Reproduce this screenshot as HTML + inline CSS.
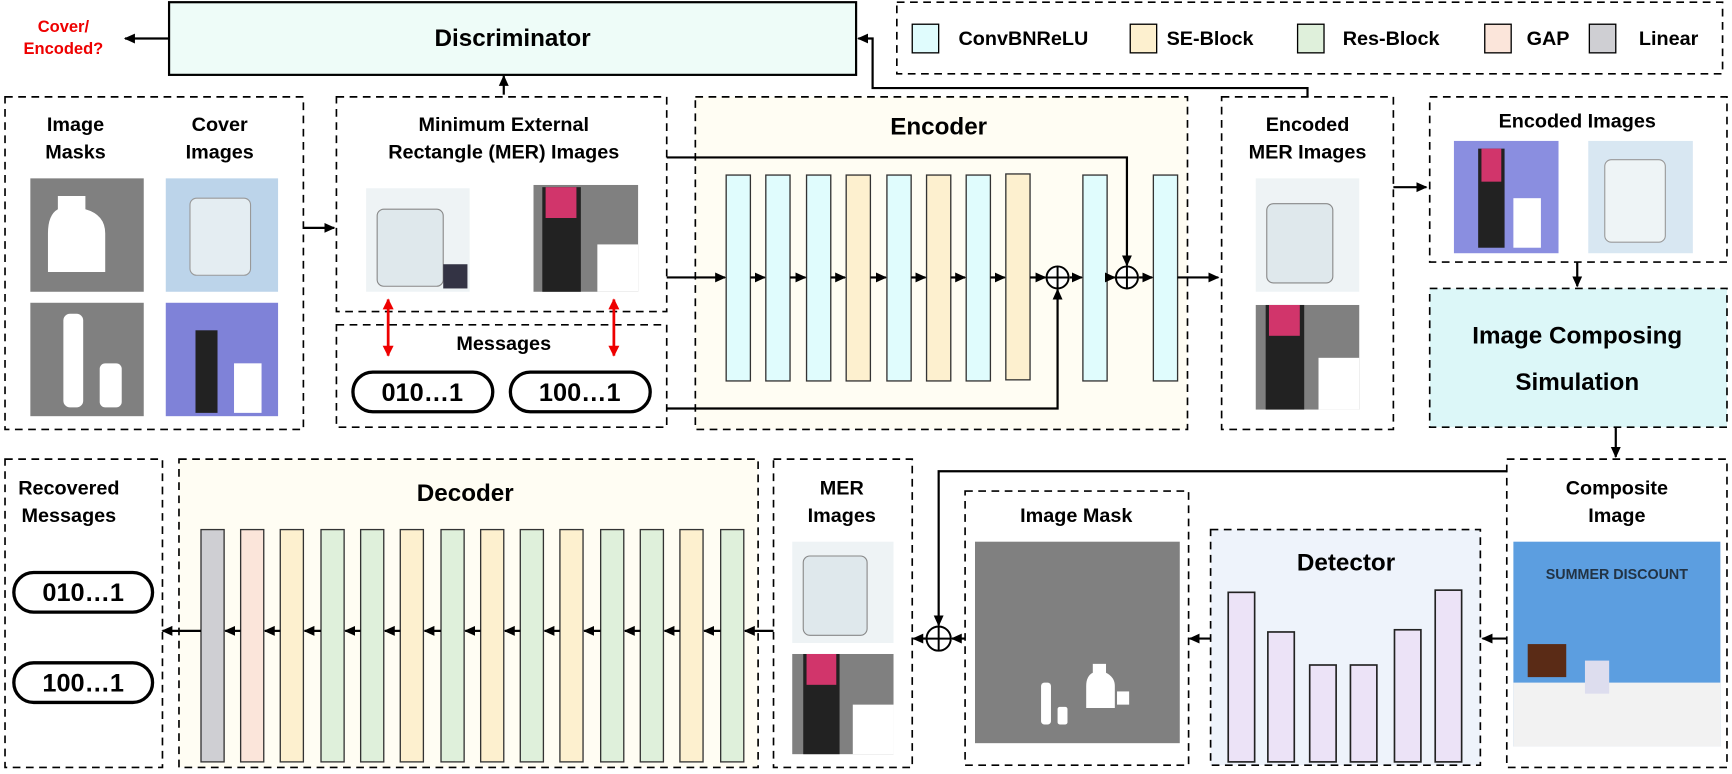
<!DOCTYPE html>
<html><head><meta charset="utf-8"><style>
html,body{margin:0;padding:0;background:#fff;}
svg{display:block;}
text{font-family:"Liberation Sans",sans-serif;font-weight:bold;fill:#000;}
</style></head><body>
<svg width="1732" height="774" viewBox="0 0 1568 703" xmlns="http://www.w3.org/2000/svg">
<defs>
<marker id="a" markerWidth="10" markerHeight="10" refX="9" refY="5" orient="auto" markerUnits="userSpaceOnUse"><path d="M0,0.5 L10,5 L0,9.5 z" fill="#000"/></marker>
<marker id="r" markerWidth="10" markerHeight="10" refX="9" refY="5" orient="auto-start-reverse" markerUnits="userSpaceOnUse"><path d="M0,0 L10,5 L0,10 z" fill="#e00"/></marker>
</defs>
<g fill="none" stroke="#000" stroke-width="1.5" stroke-dasharray="7,5">
<rect x="812" y="2" width="750" height="65"/>
<rect x="2" y="88" width="271" height="302"/>
<rect x="303" y="88" width="300" height="195"/>
<rect x="303" y="295" width="300" height="93"/>
<rect x="629" y="88" width="447" height="302" fill="#fffdf3"/>
<rect x="1107" y="88" width="156" height="302"/>
<rect x="1296" y="88" width="270" height="150"/>
<rect x="1296" y="262" width="270" height="126" fill="#dcf7f8"/>
<rect x="1366" y="417" width="200" height="280"/>
<rect x="1097" y="481" width="245" height="214" fill="#eef3fb"/>
<rect x="874" y="446" width="203" height="249"/>
<rect x="700" y="417" width="126" height="280"/>
<rect x="160" y="417" width="526" height="280" fill="#fffdf3"/>
<rect x="2" y="417" width="143" height="280"/>
</g>
<rect x="151" y="2" width="624" height="66" fill="#eefcf8" stroke="#000" stroke-width="2"/>
<text x="463" y="42" font-size="22" text-anchor="middle">Discriminator</text>
<text x="55" y="29" font-size="15" text-anchor="middle" style="fill:#e00">Cover/</text>
<text x="55" y="49" font-size="15" text-anchor="middle" style="fill:#e00">Encoded?</text>
<g stroke="#000" stroke-width="1.2">
<rect x="826" y="22" width="24" height="26" fill="#e0fcfd"/>
<rect x="1024" y="22" width="24" height="26" fill="#fdf0cf"/>
<rect x="1176" y="22" width="24" height="26" fill="#dff0db"/>
<rect x="1346" y="22" width="24" height="26" fill="#fbe5da"/>
<rect x="1441" y="22" width="24" height="26" fill="#cfcfd3"/>
</g>
<g font-size="18">
<text x="868" y="41">ConvBNReLU</text>
<text x="1057" y="41">SE-Block</text>
<text x="1217" y="41">Res-Block</text>
<text x="1384" y="41">GAP</text>
<text x="1486" y="41">Linear</text>
</g>
<g font-size="18" text-anchor="middle">
<text x="66" y="119">Image</text><text x="66" y="144">Masks</text>
<text x="197" y="119">Cover</text><text x="197" y="144">Images</text>
<text x="455" y="119">Minimum External</text><text x="455" y="144">Rectangle (MER) Images</text>
<text x="455" y="318">Messages</text>
<text x="1185" y="119">Encoded</text><text x="1185" y="144">MER Images</text>
<text x="1430" y="116">Encoded Images</text>
<text x="1466" y="449">Composite</text><text x="1466" y="474">Image</text>
<text x="975" y="474">Image Mask</text>
<text x="762" y="449">MER</text><text x="762" y="474">Images</text>
<text x="60" y="449">Recovered</text><text x="60" y="474">Messages</text>
</g>
<g font-size="22" text-anchor="middle">
<text x="850" y="122">Encoder</text>
<text x="420" y="455">Decoder</text>
<text x="1220" y="518">Detector</text>
<text x="1430" y="312">Image Composing</text>
<text x="1430" y="354">Simulation</text>
</g>
<rect x="25" y="162" width="103" height="103" fill="#808080"/>
<path d="M50,178 h25 v12 q18,5 18,22 v35 h-52 v-35 q0,-17 9,-22z" fill="#fff"/>
<rect x="25" y="275" width="103" height="103" fill="#808080"/>
<rect x="55" y="285" width="18" height="85" rx="6" fill="#fff"/><rect x="88" y="330" width="20" height="40" rx="5" fill="#fff"/>
<rect x="148" y="162" width="102" height="103" fill="#bcd4ea"/><rect x="170" y="180" width="55" height="70" rx="6" fill="#e4edf2" stroke="#999"/>
<rect x="148" y="275" width="102" height="103" fill="#7f82d8"/><rect x="175" y="300" width="20" height="75" fill="#222"/><rect x="210" y="330" width="25" height="45" fill="#fff"/>
<rect x="330" y="171" width="94" height="94" fill="#eef3f5"/><rect x="340" y="190" width="60" height="70" rx="6" fill="#dfe8ec" stroke="#888"/><rect x="400" y="240" width="22" height="22" fill="#334"/>
<rect x="482" y="168" width="95" height="97" fill="#808080"/><rect x="490" y="170" width="35" height="95" fill="#222"/><rect x="493" y="170" width="28" height="28" fill="#d1356b"/><rect x="540" y="222" width="37" height="43" fill="#fff"/>
<rect x="1138" y="162" width="94" height="103" fill="#eef3f5"/><rect x="1148" y="185" width="60" height="72" rx="6" fill="#dfe8ec" stroke="#888"/>
<rect x="1138" y="277" width="94" height="95" fill="#808080"/><rect x="1147" y="277" width="35" height="95" fill="#222"/><rect x="1150" y="277" width="28" height="28" fill="#d1356b"/><rect x="1195" y="325" width="37" height="47" fill="#fff"/>
<rect x="1318" y="128" width="95" height="102" fill="#8a8ee0"/><rect x="1340" y="135" width="24" height="90" fill="#222"/><rect x="1343" y="135" width="18" height="30" fill="#d1356b"/><rect x="1372" y="180" width="25" height="45" fill="#fff"/>
<rect x="1440" y="128" width="95" height="102" fill="#d8e7f2"/><rect x="1455" y="145" width="55" height="75" rx="6" fill="#eef4f6" stroke="#999"/>
<rect x="1372" y="492" width="188" height="186" fill="#5c9ee0"/><rect x="1372" y="620" width="188" height="58" fill="#f2f2f2"/>
<text x="1466" y="526" font-size="13" text-anchor="middle" style="fill:#234">SUMMER DISCOUNT</text>
<rect x="1385" y="585" width="35" height="30" fill="#5a2b16"/><rect x="1437" y="600" width="22" height="30" fill="#dde"/>
<rect x="883" y="492" width="186" height="183" fill="#808080"/>
<rect x="943" y="620" width="9" height="38" rx="3" fill="#fff"/><rect x="958" y="642" width="9" height="16" rx="2" fill="#fff"/>
<path d="M990,603 h12 v8 q8,4 8,12 v20 h-26 v-20 q0,-9 6,-12z" fill="#fff"/><rect x="1012" y="628" width="11" height="12" fill="#fff"/>
<rect x="717" y="492" width="92" height="92" fill="#eef3f5"/><rect x="727" y="505" width="58" height="72" rx="6" fill="#dfe8ec" stroke="#888"/>
<rect x="717" y="594" width="92" height="91" fill="#808080"/><rect x="727" y="594" width="33" height="91" fill="#222"/><rect x="730" y="594" width="27" height="28" fill="#d1356b"/><rect x="772" y="640" width="37" height="45" fill="#fff"/>
<g fill="#fff" stroke="#000" stroke-width="3">
<rect x="318" y="338" width="127" height="36" rx="18"/><rect x="461" y="338" width="127" height="36" rx="18"/>
<rect x="10" y="520" width="126" height="36" rx="18"/><rect x="10" y="602" width="126" height="36" rx="18"/>
</g>
<g font-size="23" text-anchor="middle">
<text x="381" y="364">010…1</text><text x="524" y="364">100…1</text>
<text x="73" y="546">010…1</text><text x="73" y="628">100…1</text>
</g>
<g stroke="#333" stroke-width="1.2">
<rect x="657" y="159" width="22" height="187" fill="#e0fcfd"/>
<rect x="693" y="159" width="22" height="187" fill="#e0fcfd"/>
<rect x="730" y="159" width="22" height="187" fill="#e0fcfd"/>
<rect x="766" y="159" width="22" height="187" fill="#fdf0cf"/>
<rect x="803" y="159" width="22" height="187" fill="#e0fcfd"/>
<rect x="839" y="159" width="22" height="187" fill="#fdf0cf"/>
<rect x="875" y="159" width="22" height="187" fill="#e0fcfd"/>
<rect x="911" y="158" width="22" height="187" fill="#fdf0cf"/>
<rect x="981" y="159" width="22" height="187" fill="#e0fcfd"/>
<rect x="1045" y="159" width="22" height="187" fill="#e0fcfd"/>
</g>
<g stroke="#333" stroke-width="1.2">
<rect x="180" y="481" width="21" height="211" fill="#cfcfd3"/>
<rect x="216" y="481" width="21" height="211" fill="#fbe5da"/>
<rect x="252" y="481" width="21" height="211" fill="#fdf0cf"/>
<rect x="289" y="481" width="21" height="211" fill="#dff0db"/>
<rect x="325" y="481" width="21" height="211" fill="#dff0db"/>
<rect x="361" y="481" width="21" height="211" fill="#fdf0cf"/>
<rect x="398" y="481" width="21" height="211" fill="#dff0db"/>
<rect x="434" y="481" width="21" height="211" fill="#fdf0cf"/>
<rect x="470" y="481" width="21" height="211" fill="#dff0db"/>
<rect x="506" y="481" width="21" height="211" fill="#fdf0cf"/>
<rect x="543" y="481" width="21" height="211" fill="#dff0db"/>
<rect x="579" y="481" width="21" height="211" fill="#dff0db"/>
<rect x="615" y="481" width="21" height="211" fill="#fdf0cf"/>
<rect x="652" y="481" width="21" height="211" fill="#dff0db"/>
</g>
<g stroke="#222" stroke-width="1.5" fill="#ece3f7">
<rect x="1113" y="538" width="24" height="154"/>
<rect x="1149" y="574" width="24" height="118"/>
<rect x="1187" y="604" width="24" height="88"/>
<rect x="1224" y="604" width="24" height="88"/>
<rect x="1264" y="572" width="24" height="120"/>
<rect x="1301" y="536" width="24" height="156"/>
</g>
<g stroke="#000" stroke-width="2" fill="none">
<line x1="151" y1="35" x2="111" y2="35" marker-end="url(#a)"/>
<line x1="455" y1="86" x2="455" y2="69" marker-end="url(#a)"/>
<line x1="273" y1="207" x2="301" y2="207" marker-end="url(#a)"/>
<line x1="603" y1="252" x2="656" y2="252" marker-end="url(#a)"/>
<line x1="679" y1="252" x2="692" y2="252" marker-end="url(#a)"/>
<line x1="715" y1="252" x2="729" y2="252" marker-end="url(#a)"/>
<line x1="752" y1="252" x2="765" y2="252" marker-end="url(#a)"/>
<line x1="788" y1="252" x2="802" y2="252" marker-end="url(#a)"/>
<line x1="825" y1="252" x2="838" y2="252" marker-end="url(#a)"/>
<line x1="861" y1="252" x2="874" y2="252" marker-end="url(#a)"/>
<line x1="897" y1="252" x2="910" y2="252" marker-end="url(#a)"/>
<line x1="933" y1="252" x2="947" y2="252" marker-end="url(#a)"/>
<line x1="969" y1="252" x2="980" y2="252" marker-end="url(#a)"/>
<line x1="1003" y1="252" x2="1010" y2="252" marker-end="url(#a)"/>
<line x1="1032" y1="252" x2="1044" y2="252" marker-end="url(#a)"/>
<line x1="1067" y1="252" x2="1104" y2="252" marker-end="url(#a)"/>
<polyline points="603,143 1021,143 1021,241" marker-end="url(#a)"/>
<polyline points="603,371 958,371 958,263" marker-end="url(#a)"/>
<polyline points="1185,88 1185,80 790,80 790,35 777,35" marker-end="url(#a)"/>
<line x1="1263" y1="170" x2="1293" y2="170" marker-end="url(#a)"/>
<line x1="1430" y1="238" x2="1430" y2="260" marker-end="url(#a)"/>
<line x1="1465" y1="388" x2="1465" y2="415" marker-end="url(#a)"/>
<polyline points="1366,428 850,428 850,568" marker-end="url(#a)"/>
<line x1="1366" y1="580" x2="1344" y2="580" marker-end="url(#a)"/>
<line x1="1097" y1="580" x2="1078" y2="580" marker-end="url(#a)"/>
<line x1="874" y1="580" x2="862" y2="580" marker-end="url(#a)"/>
<line x1="839" y1="580" x2="827" y2="580" marker-end="url(#a)"/>
<line x1="700" y1="573" x2="674" y2="573" marker-end="url(#a)"/>
<line x1="652" y1="573" x2="637" y2="573" marker-end="url(#a)"/>
<line x1="615" y1="573" x2="601" y2="573" marker-end="url(#a)"/>
<line x1="579" y1="573" x2="565" y2="573" marker-end="url(#a)"/>
<line x1="543" y1="573" x2="528" y2="573" marker-end="url(#a)"/>
<line x1="506" y1="573" x2="492" y2="573" marker-end="url(#a)"/>
<line x1="470" y1="573" x2="456" y2="573" marker-end="url(#a)"/>
<line x1="434" y1="573" x2="420" y2="573" marker-end="url(#a)"/>
<line x1="398" y1="573" x2="383" y2="573" marker-end="url(#a)"/>
<line x1="361" y1="573" x2="347" y2="573" marker-end="url(#a)"/>
<line x1="325" y1="573" x2="311" y2="573" marker-end="url(#a)"/>
<line x1="289" y1="573" x2="274" y2="573" marker-end="url(#a)"/>
<line x1="252" y1="573" x2="238" y2="573" marker-end="url(#a)"/>
<line x1="216" y1="573" x2="202" y2="573" marker-end="url(#a)"/>
<line x1="180" y1="573" x2="145" y2="573" marker-end="url(#a)"/>
</g>
<g stroke="#000" stroke-width="1.8" fill="#fff">
<circle cx="958" cy="252" r="10"/><circle cx="1021" cy="252" r="10"/><circle cx="850" cy="580" r="11"/>
</g>
<g stroke="#000" stroke-width="1.8">
<line x1="948" y1="252" x2="968" y2="252"/><line x1="958" y1="242" x2="958" y2="262"/>
<line x1="1011" y1="252" x2="1031" y2="252"/><line x1="1021" y1="242" x2="1021" y2="262"/>
<line x1="839" y1="580" x2="861" y2="580"/><line x1="850" y1="569" x2="850" y2="591"/>
</g>
<g stroke="#e00" stroke-width="2.5">
<line x1="350" y1="272" x2="350" y2="323" marker-start="url(#r)" marker-end="url(#r)"/>
<line x1="555" y1="272" x2="555" y2="323" marker-start="url(#r)" marker-end="url(#r)"/>
</g>
</svg>
</body></html>
